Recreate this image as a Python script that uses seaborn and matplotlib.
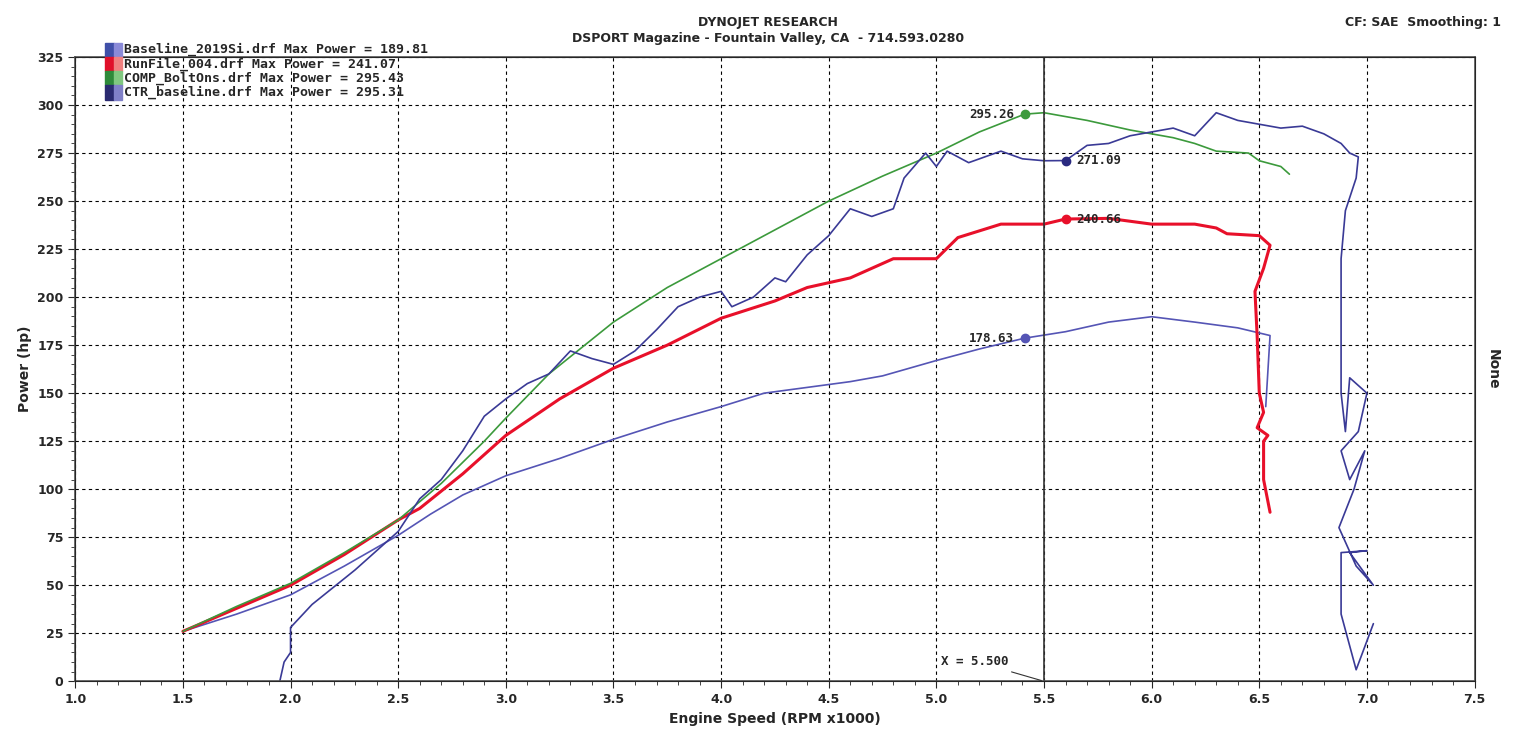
import matplotlib
matplotlib.use("Agg")
import matplotlib.pyplot as plt
import seaborn as sns
import pandas as pd
from matplotlib.patches import Rectangle
from matplotlib.ticker import MultipleLocator

sns.set_style("white")
plt.rcParams['font.family'] = ['DejaVu Sans']

base_x = [1.5,1.75,2.0,2.25,2.5,2.65,2.8,3.0,3.25,3.5,3.75,4.0,4.2,4.4,4.6,4.75,5.0,5.2,5.41,5.6,5.8,6.0,6.2,6.4,6.55,6.53]
base_y = [26,35,45,60,76,87,97,107,116,126,135,143,150,153,156,159,167,173,178.63,182,187,189.8,187,184,180,143]

red_x = [1.5,1.75,2.0,2.25,2.5,2.6,2.8,3.0,3.25,3.5,3.75,4.0,4.25,4.4,4.6,4.8,5.0,5.1,5.3,5.5,5.6,5.8,6.0,6.2,6.3,6.35,6.5,6.55,6.52,6.48,6.49,6.5,6.52,6.49,6.54,6.52,6.52,6.55]
red_y = [26,38,50,66,84,90,108,128,147,163,175,189,198,205,210,220,220,231,238,238,240.66,241,238,238,236,233,232,227,215,203,180,150,140,132,128,125,105,88]

comp_x = [1.5,1.75,2.0,2.25,2.5,2.7,2.9,3.0,3.2,3.5,3.75,4.0,4.25,4.5,4.75,5.0,5.2,5.41,5.5,5.7,5.9,6.0,6.1,6.2,6.3,6.45,6.5,6.6,6.64]
comp_y = [26,39,51,67,84,103,125,137,160,187,205,220,235,250,263,275,286,295.26,296,292,287,285,283,280,276,275,271,268,264]

ctr_x = [1.95,1.97,2.0,2.0,2.1,2.3,2.5,2.6,2.7,2.8,2.9,3.0,3.1,3.2,3.3,3.4,3.5,3.6,3.7,3.8,3.9,4.0,4.05,4.15,4.25,4.3,4.4,4.5,4.6,4.7,4.8,4.85,4.95,5.0,5.05,5.15,5.3,5.4,5.5,5.6,5.7,5.8,5.9,6.0,6.1,6.2,6.3,6.4,6.5,6.6,6.7,6.8,6.88,6.92,6.96,6.95,6.9,6.88,6.88,6.9,6.92,7.0,6.96,6.88,6.92,6.99,6.94,6.87,6.95,7.03,6.92,7.0,6.88,6.88,6.95,7.03]
ctr_y = [0,10,15,28,40,58,78,95,105,120,138,147,155,160,172,168,165,172,183,195,200,203,195,200,210,208,222,232,246,242,246,262,275,268,276,270,276,272,271,271.09,279,280,284,286,288,284,296,292,290,288,289,285,280,275,273,262,245,220,150,130,158,150,130,120,105,120,100,80,60,50,67,68,67,35,6,30]

series = [
    ("Baseline_2019Si.drf Max Power = 189.81", base_x, base_y, "#5555b5", 1.2, ("#3f4fa8", "#8a8ad8")),
    ("RunFile_004.drf Max Power = 241.07", red_x, red_y, "#e8102a", 2.2, ("#e0102a", "#f08080")),
    ("COMP_BoltOns.drf Max Power = 295.43", comp_x, comp_y, "#3c9a3c", 1.2, ("#2e8a3a", "#80c880")),
    ("CTR_baseline.drf Max Power = 295.31", ctr_x, ctr_y, "#3a3a96", 1.2, ("#2a2a70", "#8080c8")),
]

fig = plt.figure(figsize=(15.36, 7.31), dpi=100)
ax = fig.add_axes([0.049, 0.068, 0.911, 0.854])

for name, xs, ys, col, lw, _ in series:
    df = pd.DataFrame({"x": xs, "y": ys})
    sns.lineplot(data=df, x="x", y="y", sort=False, estimator=None, color=col, lw=lw, ax=ax)

marks = [(5.41, 295.26, "#3c9a3c", "left"), (5.6, 271.09, "#2a2a80", "right"),
         (5.6, 240.66, "#e8102a", "right"), (5.41, 178.63, "#5555b5", "left")]
for mx, my, c, side in marks:
    ax.plot(mx, my, "o", color=c, ms=6)
    if side == "left":
        ax.text(mx - 0.05, my, f"{my:.2f}", ha="right", va="center", fontsize=9, fontweight="bold", family="DejaVu Sans Mono")
    else:
        ax.text(mx + 0.05, my, f"{my:.2f}", ha="left", va="center", fontsize=9, fontweight="bold", family="DejaVu Sans Mono")

ax.axvline(5.5, color="#333333", lw=1.2)
ax.annotate("X = 5.500", xy=(5.5, 0), xytext=(5.18, 7), fontsize=9, fontweight="bold",
            family="DejaVu Sans Mono", ha="center", va="bottom",
            arrowprops=dict(arrowstyle="-", color="#333333", lw=0.8))

ax.set_xlim(1.0, 7.5)
ax.set_ylim(0, 325)
ax.xaxis.set_major_locator(MultipleLocator(0.5))
ax.xaxis.set_minor_locator(MultipleLocator(0.1))
ax.yaxis.set_major_locator(MultipleLocator(25))
ax.yaxis.set_minor_locator(MultipleLocator(5))
ax.set_xticks([1.0 + 0.5 * i for i in range(14)])
ax.set_xticklabels([f"{1.0 + 0.5 * i:.1f}" for i in range(14)])
ax.grid(True, which="major", color="black", ls=(0, (3, 3)), lw=0.8)
ax.tick_params(which="both", direction="out", left=True, bottom=True, labelsize=9)
ax.tick_params(which="major", length=5)
ax.tick_params(which="minor", length=3)
for lab in ax.get_xticklabels() + ax.get_yticklabels():
    lab.set_fontweight("bold")
for s in ax.spines.values():
    s.set_color("#555555")
    s.set_linewidth(1.2)
ax.set_xlabel("Engine Speed (RPM x1000)", fontsize=10, fontweight="bold")
ax.set_ylabel("Power (hp)", fontsize=10, fontweight="bold")

ax2 = ax.twinx()
ax2.set_yticks([])
ax2.set_ylabel("None", rotation=270, labelpad=18, fontsize=10, fontweight="bold")

fig.text(0.50, 0.965, "DYNOJET RESEARCH", ha="center", fontsize=9, fontweight="bold")
fig.text(0.50, 0.943, "DSPORT Magazine - Fountain Valley, CA  - 714.593.0280", ha="center", fontsize=9, fontweight="bold")
fig.text(0.977, 0.965, "CF: SAE  Smoothing: 1", ha="right", fontsize=9, fontweight="bold")

y0 = 0.932
for i, (name, _, _, _, _, (c1, c2)) in enumerate(series):
    yy = y0 - i * 0.0195
    fig.patches.append(Rectangle((0.0685, yy - 0.0098), 0.0055, 0.0195, transform=fig.transFigure, color=c1, zorder=5))
    fig.patches.append(Rectangle((0.074, yy - 0.0098), 0.0055, 0.0195, transform=fig.transFigure, color=c2, zorder=5))
    fig.text(0.081, yy, name, ha="left", va="center", fontsize=9.5, fontweight="bold", family="DejaVu Sans Mono", zorder=5)

fig.savefig("out.png", dpi=100)
